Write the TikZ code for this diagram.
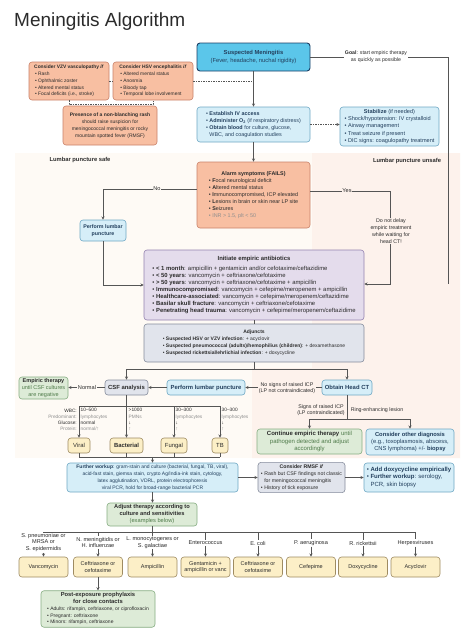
\documentclass[tikz,border=0pt]{standalone}
\usepackage{fontspec}
\setmainfont{Liberation Sans}
\usetikzlibrary{arrows.meta}
\newcommand\myfs[2]{\fontsize{#1}{#2}\selectfont}
\newcommand\mctr[1]{\multicolumn{1}{@{}c@{}}{#1}}
\definecolor{orF}{HTML}{F8BFA2}
\definecolor{orD}{HTML}{C9826A}
\definecolor{cyF}{HTML}{5BC6EA}
\definecolor{cyD}{HTML}{1C3F66}
\definecolor{lbF}{HTML}{D6EEF8}
\definecolor{lbD}{HTML}{6FA8C4}
\definecolor{puF}{HTML}{E4DCEC}
\definecolor{puD}{HTML}{9482B0}
\definecolor{grF}{HTML}{E1E4EC}
\definecolor{grD}{HTML}{858C9C}
\definecolor{gnF}{HTML}{DDEBD7}
\definecolor{gnD}{HTML}{86AD82}
\definecolor{yeF}{HTML}{FCEFC7}
\definecolor{yeD}{HTML}{9E8B62}
\definecolor{lnC}{HTML}{555555}
\definecolor{gyT}{HTML}{8E8E8E}
\definecolor{gnT}{HTML}{4E7A49}
\definecolor{nvT}{HTML}{23405E}
\definecolor{txT}{HTML}{2B2B2B}
\definecolor{creamBG}{HTML}{FEFAF5}
\definecolor{pinkBG}{HTML}{FDF2EC}
\begin{document}
\begin{tikzpicture}[x=1pt,y=-1pt,
 box/.style={draw, rounded corners=3pt, line width=0.6pt, align=center, text=txT, inner sep=1.5pt},
 obox/.style={box, fill=orF, draw=orD},
 cbox/.style={box, fill=cyF, draw=cyD, line width=0.9pt},
 lbox/.style={box, fill=lbF, draw=lbD},
 pbox/.style={box, fill=puF, draw=puD},
 gbox/.style={box, fill=grF, draw=grD},
 nbox/.style={box, fill=gnF, draw=gnD},
 ybox/.style={box, fill=yeF, draw=yeD, minimum width=49, minimum height=20, font=\myfs{5.5}{6.8}},
 ln/.style={draw=lnC, line width=0.6pt},
 arr/.style={ln, -{Stealth[length=3.2pt,width=3pt]}},
 dsh/.style={ln, dash pattern=on 1.5pt off 1pt},
 lbl/.style={inner sep=0.8pt, font=\myfs{5.6}{6.7}, text=txT, align=center},
 sm/.style={inner sep=0pt, font=\myfs{4.8}{6.3}, text=txT},
]
\useasboundingbox (0,0) rectangle (474,640);
\fill[white] (0,0) rectangle (474,640);
\fill[creamBG] (15,153) rectangle (460,458);
\fill[pinkBG] (312,153) -- (460,153) -- (460,458) -- (252,458) -- (252,368) -- (312,368) -- cycle;

\node[anchor=base west, inner sep=0, font=\myfs{19}{22}, text=txT] (title) at (14,26) {Meningitis Algorithm};
\node[font=\bfseries\myfs{5.8}{7}, text=txT] (lps) at (80,160) {Lumbar puncture safe};
\node[font=\bfseries\myfs{5.8}{7}, text=txT] (lpu) at (407,161) {Lumbar puncture unsafe};

% top
\node[cbox, minimum width=113, minimum height=28, font=\myfs{5.8}{7.2}, text=nvT] (susp) at (253.5,57) {\textbf{Suspected Meningitis}\\(Fever, headache, nuchal rigidity)};
\node[obox, minimum width=80, minimum height=38, font=\myfs{4.9}{6.8}] (vzv) at (69,81) {\begin{tabular}{@{}l@{}}\textbf{Consider VZV vasculopathy \textit{if}}\\\,• Rash\\\,• Ophthalmic zoster\\\,• Altered mental status\\\,• Focal deficits (i.e., stroke)\end{tabular}};
\node[obox, minimum width=80, minimum height=38, font=\myfs{4.9}{6.8}] (hsv) at (153,81) {\begin{tabular}{@{}l@{}}\textbf{Consider HSV encephalitis \textit{if}}\\\,• Altered mental status\\\,• Anosmia\\\,• Bloody tap\\\,• Temporal lobe involvement\end{tabular}};
\node[obox, minimum width=94, minimum height=39, font=\myfs{5}{7}] (rash) at (110,125.5) {\textbf{Presence of a non-blanching rash}\\should raise suspicion for\\meningococcal meningitis or rocky\\mountain spotted fever (RMSF)};
\node[lbox, minimum width=113, minimum height=35, font=\myfs{5.4}{6.8}, text=nvT] (iv) at (253.5,124.5) {\begin{tabular}{@{}l@{}}• \textbf{Establish IV access}\\• \textbf{Administer O\textsubscript{2}} (if respiratory distress)\\• \textbf{Obtain blood} for culture, glucose,\\\phantom{• }WBC, and coagulation studies\end{tabular}};
\node[lbox, minimum width=99, minimum height=39, font=\myfs{5.6}{7.1}, text=nvT] (stab) at (389.5,126.5) {\begin{tabular}{@{}l@{}}\mctr{\textbf{Stabilize} (if needed)}\\• Shock/hypotension: IV crystalloid\\• Airway management\\• Treat seizure if present\\• DIC signs: coagulopathy treatment\end{tabular}};

% alarm
\node[obox, minimum width=113, minimum height=66, font=\myfs{5.4}{7.1}] (alarm) at (253.5,195) {\begin{tabular}{@{}l@{}}\mctr{\textbf{Alarm symptoms (FAILS)}}\\• \textbf{F}ocal neurological deficit\\• \textbf{A}ltered mental status\\• \textbf{I}mmunocompromised, ICP elevated\\• \textbf{L}esions in brain or skin near LP site\\• \textbf{S}eizures\\\textcolor{gyT}{• INR > 1.5, plt < 50}\end{tabular}};
\node[lbox, minimum width=46, minimum height=21, font=\bfseries\myfs{5.3}{6.8}, text=nvT] (lp1) at (103,230.5) {Perform lumbar\\puncture};

\node[pbox, minimum width=220, minimum height=70, font=\myfs{5.9}{7.1}] (abx) at (254,285) {\begin{tabular}{@{}l@{}}\mctr{\textbf{Initiate empiric antibiotics}}\\[3pt]• \textbf{< 1 month}: ampicillin + gentamicin and/or cefotaxime/ceftazidime\\• \textbf{< 50 years}: vancomycin + ceftriaxone/cefotaxime\\• \textbf{> 50 years}: vancomycin + ceftriaxone/cefotaxime + ampicillin\\• \textbf{Immunocompromised}: vancomycin + cefepime/meropenem + ampicillin\\• \textbf{Healthcare-associated}: vancomycin + cefepime/meropenem/ceftazidime\\• \textbf{Basilar skull fracture}: vancomycin + ceftriaxone/cefotaxime\\• \textbf{Penetrating head trauma}: vancomycin + cefepime/meropenem/ceftazidime\end{tabular}};
\node[gbox, minimum width=220, minimum height=38, font=\myfs{5}{7}] (adj) at (254,343) {\begin{tabular}{@{}l@{}}\mctr{\textbf{Adjuncts}}\\• \textbf{Suspected HSV or VZV infection}: + acyclovir\\• \textbf{Suspected pneumococcal (adults)/hemophilius (children)}: + dexamethasone\\• \textbf{Suspected rickettsial/ehrlichial infection}: + doxycycline\end{tabular}};

% CSF row
\node[gbox, minimum width=43, minimum height=15, font=\bfseries\myfs{5.9}{7}] (csf) at (126.5,387.5) {CSF analysis};
\node[nbox, minimum width=49, minimum height=22, font=\myfs{5.5}{6.8}] (emp) at (43.5,388) {\textbf{Empiric therapy}\\\textcolor{gnT}{until CSF cultures}\\\textcolor{gnT}{are negative}};
\node[lbox, minimum width=78, minimum height=15, font=\bfseries\myfs{5.9}{7}, text=nvT] (lp2) at (206,387.5) {Perform lumbar puncture};
\node[lbox, minimum width=50, minimum height=15, font=\bfseries\myfs{5.9}{7}, text=nvT] (ct) at (347,387.5) {Obtain Head CT};

\node[ybox, minimum width=22, minimum height=15, font=\myfs{5.9}{7}] (viral) at (79,445.5) {Viral};
\node[ybox, minimum width=33, minimum height=15, font=\bfseries\myfs{5.9}{7}] (bact) at (126.5,445.5) {Bacterial};
\node[ybox, minimum width=26, minimum height=15, font=\myfs{5.9}{7}] (fungal) at (174,445.5) {Fungal};
\node[ybox, minimum width=16, minimum height=15, font=\myfs{5.9}{7}] (tb) at (220,445.5) {TB};

\node[nbox, minimum width=105, minimum height=25, font=\myfs{6}{7.3}] (cont) at (309.5,441.5) {\textbf{Continue empiric therapy} \textcolor{gnT}{until}\\\textcolor{gnT}{pathogen detected and adjust}\\\textcolor{gnT}{accordingly}};
\node[lbox, minimum width=88, minimum height=26, font=\myfs{5.8}{7.3}, text=nvT] (other) at (410,442) {\textbf{Consider other diagnosis}\\(e.g., toxoplasmosis, abscess,\\CNS lymphoma) +/- \textbf{biopsy}};

% workup row
\node[lbox, minimum width=171, minimum height=29, font=\myfs{5}{7.1}, text=nvT] (fw) at (152.5,477.5) {\textbf{Further workup}: gram-stain and culture (bacterial, fungal, TB, viral),\\acid-fast stain, giemsa stain, crypto Ag/India-ink stain, cytology,\\latex agglutination, VDRL, protein electrophoresis\\viral PCR, hold for broad-range bacterial PCR};
\node[gbox, minimum width=87, minimum height=29, font=\myfs{5.2}{6.8}] (rmsf) at (301.5,477.5) {\begin{tabular}{@{}l@{}}\mctr{\textbf{Consider RMSF \textit{if}}}\\• Rash but CSF findings not classic\\\phantom{• }for meningococcal meningitis\\• History of tick exposure\end{tabular}};
\node[lbox, minimum width=90, minimum height=29, font=\myfs{6}{7.2}, text=nvT] (doxy) at (409,477.5) {\begin{tabular}{@{}l@{}}• \textbf{Add doxycycline empirically}\\• \textbf{Further workup}: serology,\\\phantom{• }PCR, skin biopsy\end{tabular}};

\node[nbox, minimum width=90, minimum height=23, font=\myfs{5.7}{7}] (adjust) at (152,514.5) {\textbf{Adjust therapy according to}\\\textbf{culture and sensitivities}\\\textcolor{gnT}{(examples below)}};

\node[ybox] (d1) at (43.5,567) {Vancomycin};
\node[ybox] (d2) at (98,567) {Ceftriaxone or\\cefotaxime};
\node[ybox] (d3) at (152.5,567) {Ampicillin};
\node[ybox] (d4) at (205.5,567) {Gentamicin +\\ampicillin or vanc};
\node[ybox] (d5) at (258,567) {Ceftriaxone or\\cefotaxime};
\node[ybox] (d6) at (311,567) {Cefepime};
\node[ybox] (d7) at (363,567) {Doxycycline};
\node[ybox] (d8) at (415.5,567) {Acyclovir};

\node[lbl] (o1) at (43.5,542.5) {S. pneumoniae or\\MRSA or\\S. epidermidis};
\node[lbl] (o2) at (98,542.5) {N. meningitidis or\\H. influenzae};
\node[lbl] (o3) at (152.5,542.5) {L. monocytogenes or\\S. galactiae};
\node[lbl] (o4) at (205.5,543) {Enterococcus};
\node[lbl] (o5) at (258,543) {E. coli};
\node[lbl] (o6) at (311,543) {P. aeruginosa};
\node[lbl] (o7) at (363,543) {R. rickettsii};
\node[lbl] (o8) at (415.5,543) {Herpesviruses};

\node[nbox, minimum width=114, minimum height=34, font=\myfs{5}{6.7}] (pep) at (98,609) {\begin{tabular}{@{}l@{}}\mctr{\myfs{5.8}{7}\textbf{Post-exposure prophylaxis}}\\\mctr{\myfs{5.8}{7}\textbf{for close contacts}}\\• Adults: rifampin, ceftriaxone, or ciprofloxacin\\• Pregnant: ceftriaxone\\• Minors: rifampin, ceftriaxone\end{tabular}};

% ---------- connectors ----------
\coordinate (gc) at (448,57);
\coordinate (jy) at (448,284);
\coordinate (ny) at (0,189);
\coordinate (yy) at (0,191);
\coordinate (yx) at (390,0);
\coordinate (sy) at (0,369);
\coordinate (ry) at (0,419);
\coordinate (ty) at (0,406);
\coordinate (by) at (0,457);
\coordinate (dy) at (0,532);

\draw[arr] (susp) -- (iv);
\draw[dsh] (vzv) -- (hsv);
\draw[dsh] (hsv.east) -- (hsv.east -| susp.south);
\draw[dsh] (vzv.south) -- ++(0,4) -| (hsv.south);
\draw[ln] (susp.east) -- (gc) -- (jy);
\node[lbl, fill=white, font=\myfs{5.2}{7}] (goal) at (376,57) {\textbf{Goal}: start empiric therapy\\as quickly as possible};
\draw[dsh, -{Stealth[length=3.2pt,width=3pt]}] (iv.east) -- (stab.west |- iv.east);
\draw[arr] (iv) -- (alarm);

\draw[arr] (alarm.west |- ny) -| (lp1.north);
\node[lbl, fill=creamBG] (nolab) at (157,189) {No};
\draw[arr] (alarm.east |- yy) -| (yx |- jy) -- (jy -| abx.east);
\node[lbl, fill=pinkBG] (yeslab) at (347,191) {Yes};
\node[lbl, fill=pinkBG, font=\myfs{5.3}{6.8}] (note) at (391,231) {Do not delay\\empiric treatment\\while waiting for\\head CT!};
\draw[arr] (lp1.south) |- (abx.west);
\draw[ln] (abx) -- (adj);

\draw[ln] (adj.south) -- (adj.south |- sy);
\draw[arr] (adj.south |- sy) -| (csf.north);
\draw[arr] (adj.south |- sy) -| (ct.north);
\draw[arr] (lp2) -- (csf);
\draw[arr] (csf.west) -- (csf.west -| emp.east);
\node[lbl, fill=creamBG] (normlab) at (87,387.5) {Normal};
\draw[arr] (ct) -- (lp2);
\node[lbl, fill=pinkBG, font=\myfs{5.3}{6.5}] (icp1) at (287,388) {No signs of raised ICP\\(LP not contraindicated)};

\draw[ln] (ct.south) -- (ct.south |- ry);
\draw[arr] (ct.south |- ry) -| (cont.north);
\draw[arr] (ct.south |- ry) -| (other.north);
\node[lbl, font=\myfs{5.3}{6.5}] (icp2) at (321,410) {Signs of raised ICP\\(LP contraindicated)};
\node[lbl, font=\myfs{5.3}{6.5}] (ring) at (377,410) {Ring-enhancing lesion};

\draw[ln] (csf.south) -- (csf.south |- ty);
\draw[ln] (viral.north |- ty) -- (tb.north |- ty);
\foreach \b in {viral,bact,fungal,tb} \draw[arr] (\b.north |- ty) -- (\b.north);
\foreach \b in {viral,bact,fungal,tb} \draw[ln] (\b.south) -- (\b.south |- by);
\draw[ln] (viral.south |- by) -- (tb.south |- by);
\draw[arr] (fw.north |- by) -- (fw.north);

\node[sm, align=right, anchor=east] (vkeys) at (77,419.8) {WBC:\\\textcolor{gyT}{Predominant:}\\Glucose:\\\textcolor{gyT}{Protein:}};
\node[sm, align=left, anchor=west] (vvals) at (80.5,419.8) {10–500\\\textcolor{gyT}{lymphocytes}\\normal\\\textcolor{gyT}{normal/↑}};
\node[sm, align=left, anchor=west] (bvals) at (128.5,419.8) {>1000\\\textcolor{gyT}{PMNs}\\↓\\\textcolor{gyT}{↑}};
\node[sm, align=left, anchor=west] (fvals) at (175.5,419.8) {30–300\\\textcolor{gyT}{lymphocytes}\\↓\\\textcolor{gyT}{↑}};
\node[sm, align=left, anchor=west] (tvals) at (221.5,419.8) {30–300\\\textcolor{gyT}{lymphocytes}\\↓\\\textcolor{gyT}{↑}};

\draw[arr] (fw) -- (rmsf);
\draw[arr] (rmsf) -- (doxy);
\draw[arr] (fw.south) -- (fw.south |- adjust.north);
\draw[ln] (adjust.south) -- (adjust.south |- dy);
\draw[ln] (d1.north |- dy) -- (d8.north |- dy);
\foreach \i in {1,...,8} {
  \draw[ln] (d\i.north |- dy) -- (o\i.north);
  \draw[arr] (o\i.south) -- (d\i.north);
}
\draw[arr] (d2) -- (pep);
\end{tikzpicture}
\end{document}
